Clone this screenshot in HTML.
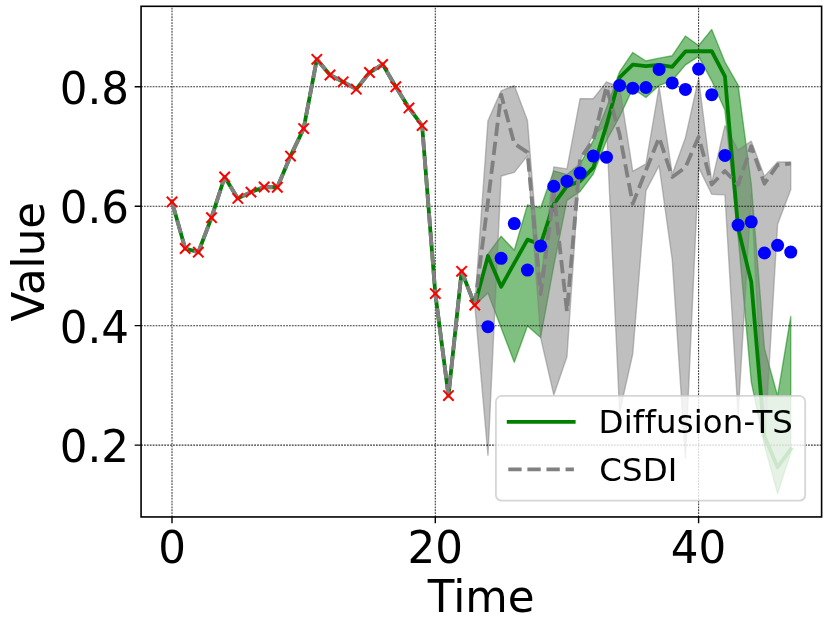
<!DOCTYPE html>
<html><head><meta charset="utf-8"><style>html,body{margin:0;padding:0;background:#fff;}svg{display:block;}</style></head>
<body><svg width="830" height="623" viewBox="0 0 830 623"><rect x="0" y="0" width="830" height="623" fill="#ffffff"/><clipPath id="ax"><rect x="141.07" y="6.3" width="680.53" height="510.65"/></clipPath><g clip-path="url(#ax)"><path d="M474.79 305.12 L487.96 254.00 L501.12 236.26 L514.29 250.29 L527.45 204.91 L540.62 207.77 L553.78 170.81 L566.95 174.57 L580.12 163.82 L593.28 140.53 L606.44 107.98 L619.61 71.85 L632.77 52.50 L645.94 60.98 L659.11 58.17 L672.27 55.73 L685.43 36.02 L698.60 45.57 L711.76 29.45 L724.93 62.00 L738.09 85.11 L751.26 184.12 L764.42 348.35 L777.59 395.89 L790.75 316.52 L790.75 452.86 L777.59 493.53 L764.42 445.10 L751.26 381.80 L738.09 236.08 L724.93 110.07 L711.76 80.81 L698.60 56.32 L685.43 64.92 L672.27 80.57 L659.11 85.41 L645.94 97.53 L632.77 88.57 L619.61 116.64 L606.44 140.77 L593.28 173.97 L580.12 191.41 L566.95 200.43 L553.78 265.94 L540.62 337.48 L527.45 325.90 L514.29 362.33 L501.12 327.69 L487.96 292.99 L474.79 305.12 Z" fill="#008000" fill-opacity="0.5" stroke="#008000" stroke-opacity="0.5" stroke-width="1.39" stroke-linejoin="round"/><path d="M474.79 305.12 L487.96 120.88 L501.12 90.90 L514.29 85.59 L527.45 120.58 L540.62 283.86 L553.78 166.98 L566.95 168.90 L580.12 98.60 L593.28 98.72 L606.44 82.00 L619.61 86.78 L632.77 171.34 L645.94 163.82 L659.11 86.78 L672.27 174.33 L685.43 137.78 L698.60 78.42 L711.76 182.33 L724.93 125.60 L738.09 150.08 L751.26 141.13 L764.42 176.36 L777.59 162.03 L790.75 162.03 L790.75 189.50 L777.59 224.14 L764.42 445.10 L751.26 194.28 L738.09 415.24 L724.93 194.87 L711.76 194.28 L698.60 167.40 L685.43 458.24 L672.27 259.97 L659.11 165.61 L645.94 190.69 L632.77 353.73 L619.61 412.25 L606.44 125.60 L593.28 134.56 L580.12 160.24 L566.95 356.71 L553.78 394.94 L540.62 337.60 L527.45 155.82 L514.29 172.42 L501.12 176.00 L487.96 455.25 L474.79 305.12 Z" fill="#808080" fill-opacity="0.5" stroke="#808080" stroke-opacity="0.5" stroke-width="1.39" stroke-linejoin="round"/><line x1="172.00" y1="516.95" x2="172.00" y2="6.3" stroke="#000" stroke-opacity="0.8" stroke-width="1.05" stroke-dasharray="1.8 1.1"/><line x1="435.30" y1="516.95" x2="435.30" y2="6.3" stroke="#000" stroke-opacity="0.8" stroke-width="1.05" stroke-dasharray="1.8 1.1"/><line x1="698.60" y1="516.95" x2="698.60" y2="6.3" stroke="#000" stroke-opacity="0.8" stroke-width="1.05" stroke-dasharray="1.8 1.1"/><line x1="141.07" y1="445.10" x2="821.6" y2="445.10" stroke="#000" stroke-opacity="0.8" stroke-width="1.05" stroke-dasharray="1.8 1.1"/><line x1="141.07" y1="325.66" x2="821.6" y2="325.66" stroke="#000" stroke-opacity="0.8" stroke-width="1.05" stroke-dasharray="1.8 1.1"/><line x1="141.07" y1="206.22" x2="821.6" y2="206.22" stroke="#000" stroke-opacity="0.8" stroke-width="1.05" stroke-dasharray="1.8 1.1"/><line x1="141.07" y1="86.78" x2="821.6" y2="86.78" stroke="#000" stroke-opacity="0.8" stroke-width="1.05" stroke-dasharray="1.8 1.1"/><path d="M172.00 201.92 L185.16 248.50 L198.33 252.20 L211.50 217.69 L224.66 177.02 L237.82 198.40 L250.99 192.13 L264.15 186.99 L277.32 187.23 L290.49 156.11 L303.65 128.58 L316.81 59.31 L329.98 75.02 L343.14 81.82 L356.31 89.17 L369.48 72.51 L382.64 64.39 L395.80 86.78 L408.97 107.92 L422.13 125.60 L435.30 293.59 L448.46 395.59 L461.63 271.31 L474.79 305.12 L487.96 255.97 L501.12 286.78 L514.29 263.19 L527.45 239.66 L540.62 244.44 L553.78 204.13 L566.95 186.21 L580.12 181.14 L593.28 167.70 L606.44 125.42 L619.61 77.28 L632.77 64.68 L645.94 66.18 L659.11 64.92 L672.27 66.77 L685.43 51.43 L698.60 51.25 L711.76 51.25 L724.93 76.39 L738.09 228.32 L751.26 281.89 L764.42 436.14 L777.59 467.20 L790.75 449.28" fill="none" stroke="#008000" stroke-width="3.8" stroke-linejoin="round" stroke-linecap="square"/><path d="M172.00 201.92 L185.16 248.50 L198.33 252.20 L211.50 217.69 L224.66 177.02 L237.82 198.40 L250.99 192.13 L264.15 186.99 L277.32 187.23 L290.49 156.11 L303.65 128.58 L316.81 59.31 L329.98 75.02 L343.14 81.82 L356.31 89.17 L369.48 72.51 L382.64 64.39 L395.80 86.78 L408.97 107.92 L422.13 125.60 L435.30 293.59 L448.46 395.59 L461.63 271.31 L474.79 305.12 L487.96 201.44 L501.12 94.54 L514.29 143.69 L527.45 152.29 L540.62 294.01 L553.78 193.08 L566.95 311.33 L580.12 158.44 L593.28 140.53 L606.44 86.78 L619.61 134.56 L632.77 203.83 L645.94 170.39 L659.11 137.54 L672.27 176.96 L685.43 167.40 L698.60 136.94 L711.76 184.48 L724.93 170.99 L738.09 184.72 L751.26 146.20 L764.42 183.71 L777.59 165.01 L790.75 163.52" fill="none" stroke="#808080" stroke-width="3.8" stroke-linejoin="round" stroke-linecap="butt" stroke-dasharray="13.32 5.76"/><path d="M166.80 196.72 L177.20 207.12 M166.80 207.12 L177.20 196.72 M179.97 243.30 L190.36 253.70 M179.97 253.70 L190.36 243.30 M193.13 247.00 L203.53 257.40 M193.13 257.40 L203.53 247.00 M206.30 212.49 L216.69 222.89 M206.30 222.89 L216.69 212.49 M219.46 171.82 L229.86 182.22 M219.46 182.22 L229.86 171.82 M232.62 193.20 L243.02 203.60 M232.62 203.60 L243.02 193.20 M245.79 186.93 L256.19 197.33 M245.79 197.33 L256.19 186.93 M258.95 181.79 L269.35 192.19 M258.95 192.19 L269.35 181.79 M272.12 182.03 L282.52 192.43 M272.12 192.43 L282.52 182.03 M285.29 150.91 L295.69 161.31 M285.29 161.31 L295.69 150.91 M298.45 123.38 L308.85 133.78 M298.45 133.78 L308.85 123.38 M311.62 54.11 L322.01 64.51 M311.62 64.51 L322.01 54.11 M324.78 69.82 L335.18 80.22 M324.78 80.22 L335.18 69.82 M337.94 76.62 L348.34 87.02 M337.94 87.02 L348.34 76.62 M351.11 83.97 L361.51 94.37 M351.11 94.37 L361.51 83.97 M364.28 67.31 L374.68 77.71 M364.28 77.71 L374.68 67.31 M377.44 59.19 L387.84 69.59 M377.44 69.59 L387.84 59.19 M390.60 81.58 L401.00 91.98 M390.60 91.98 L401.00 81.58 M403.77 102.72 L414.17 113.12 M403.77 113.12 L414.17 102.72 M416.94 120.40 L427.33 130.80 M416.94 130.80 L427.33 120.40 M430.10 288.39 L440.50 298.79 M430.10 298.79 L440.50 288.39 M443.26 390.39 L453.66 400.79 M443.26 400.79 L453.66 390.39 M456.43 266.11 L466.83 276.51 M456.43 276.51 L466.83 266.11 M469.59 299.92 L479.99 310.32 M469.59 310.32 L479.99 299.92" stroke="#ff0000" stroke-width="2.0" fill="none"/><circle cx="487.96" cy="326.68" r="6.5" fill="#0000ff"/><circle cx="501.12" cy="258.30" r="6.5" fill="#0000ff"/><circle cx="514.29" cy="223.60" r="6.5" fill="#0000ff"/><circle cx="527.45" cy="270.12" r="6.5" fill="#0000ff"/><circle cx="540.62" cy="245.93" r="6.5" fill="#0000ff"/><circle cx="553.78" cy="186.27" r="6.5" fill="#0000ff"/><circle cx="566.95" cy="181.20" r="6.5" fill="#0000ff"/><circle cx="580.12" cy="173.08" r="6.5" fill="#0000ff"/><circle cx="593.28" cy="156.11" r="6.5" fill="#0000ff"/><circle cx="606.44" cy="157.13" r="6.5" fill="#0000ff"/><circle cx="619.61" cy="85.41" r="6.5" fill="#0000ff"/><circle cx="632.77" cy="88.21" r="6.5" fill="#0000ff"/><circle cx="645.94" cy="87.50" r="6.5" fill="#0000ff"/><circle cx="659.11" cy="69.46" r="6.5" fill="#0000ff"/><circle cx="672.27" cy="82.90" r="6.5" fill="#0000ff"/><circle cx="685.43" cy="89.47" r="6.5" fill="#0000ff"/><circle cx="698.60" cy="69.10" r="6.5" fill="#0000ff"/><circle cx="711.76" cy="94.72" r="6.5" fill="#0000ff"/><circle cx="724.93" cy="155.46" r="6.5" fill="#0000ff"/><circle cx="738.09" cy="225.09" r="6.5" fill="#0000ff"/><circle cx="751.26" cy="221.81" r="6.5" fill="#0000ff"/><circle cx="764.42" cy="252.98" r="6.5" fill="#0000ff"/><circle cx="777.59" cy="245.28" r="6.5" fill="#0000ff"/><circle cx="790.75" cy="252.03" r="6.5" fill="#0000ff"/></g><rect x="141.07" y="6.3" width="680.53" height="510.65" fill="none" stroke="#000" stroke-width="1.6" stroke-linejoin="miter"/><path d="M172.00 516.95 L172.00 523.35 M435.30 516.95 L435.30 523.35 M698.60 516.95 L698.60 523.35 M141.07 445.10 L134.67 445.10 M141.07 325.66 L134.67 325.66 M141.07 206.22 L134.67 206.22 M141.07 86.78 L134.67 86.78" stroke="#000" stroke-width="1.4"/><text x="172.00" y="563.3" text-anchor="middle" font-size="43.6" font-family="DejaVu Sans, Liberation Sans, sans-serif">0</text><text x="435.30" y="563.3" text-anchor="middle" font-size="43.6" font-family="DejaVu Sans, Liberation Sans, sans-serif">20</text><text x="698.60" y="563.3" text-anchor="middle" font-size="43.6" font-family="DejaVu Sans, Liberation Sans, sans-serif">40</text><text x="129.0" y="461.75" text-anchor="end" font-size="43.6" font-family="DejaVu Sans, Liberation Sans, sans-serif">0.2</text><text x="129.0" y="342.61" text-anchor="end" font-size="43.6" font-family="DejaVu Sans, Liberation Sans, sans-serif">0.4</text><text x="129.0" y="223.47" text-anchor="end" font-size="43.6" font-family="DejaVu Sans, Liberation Sans, sans-serif">0.6</text><text x="129.0" y="104.33" text-anchor="end" font-size="43.6" font-family="DejaVu Sans, Liberation Sans, sans-serif">0.8</text><text x="481.2" y="612.0" text-anchor="middle" font-size="43.6" font-family="DejaVu Sans, Liberation Sans, sans-serif">Time</text><text transform="translate(44.3 261.7) rotate(-90)" x="0" y="0" text-anchor="middle" font-size="43.6" font-family="DejaVu Sans, Liberation Sans, sans-serif">Value</text><rect x="495.9" y="395.9" width="309.3" height="104.8" rx="5.8" ry="5.8" fill="#ffffff" fill-opacity="0.8" stroke="#cccccc" stroke-opacity="0.8" stroke-width="1.8"/><line x1="508.7" y1="421.8" x2="573.7" y2="421.8" stroke="#008000" stroke-width="3.8" stroke-linecap="square"/><line x1="508.3" y1="469.4" x2="573.9" y2="469.4" stroke="#808080" stroke-width="3.8" stroke-dasharray="13.32 5.76"/><text x="598.6" y="433.4" letter-spacing="0.16" font-size="32.4" font-family="DejaVu Sans, Liberation Sans, sans-serif">Diffusion-TS</text><text x="599.3" y="481.0" letter-spacing="0.1" font-size="32.4" font-family="DejaVu Sans, Liberation Sans, sans-serif">CSDI</text></svg></body></html>
